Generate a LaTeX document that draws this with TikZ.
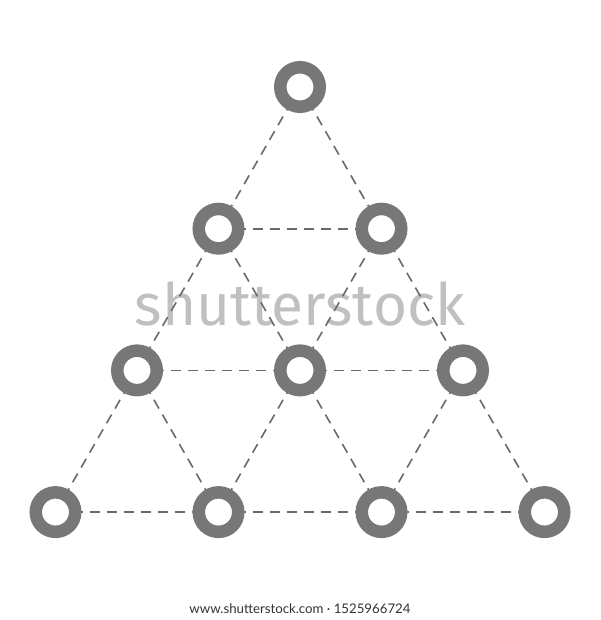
\documentclass[tikz,border=0pt]{standalone}
\usepackage{fontspec}
\newfontfamily\wmfont{Fira Sans}
\newfontfamily\capfont{Lato}
\definecolor{ringgray}{HTML}{777777}
\definecolor{dashgray}{HTML}{6A6A6A}
\definecolor{wmgray}{HTML}{C0C0C0}
\definecolor{captxt}{HTML}{333333}
\tikzset{
  ring/.style={circle, draw=ringgray, line width=12.5pt, fill=white, minimum size=39.5pt, inner sep=0pt},
  link/.style={draw=dashgray, line width=1.6pt, dash pattern=on 10pt off 7pt},
}
\begin{document}
\begin{tikzpicture}[x=1pt,y=-1pt]
\useasboundingbox[fill=white] (0,0) rectangle (600,620);
\node[text=wmgray, inner sep=0pt] (wm) at (300,304) {\resizebox{330pt}{!}{\wmfont shutterstock}};
% nodes
\foreach \r in {0,...,3}{
  \foreach \i in {0,...,\r}{
    \pgfmathsetmacro{\xx}{300 + 163*(\i - \r/2)}
    \pgfmathsetmacro{\yy}{87 + 141.7*\r}
    \coordinate (c\r\i) at (\xx,\yy);
  }
}
% links
\foreach \r in {0,...,3}{
  \foreach \i in {0,...,\r}{
    \pgfmathtruncatemacro{\nr}{\r+1}
    \pgfmathtruncatemacro{\ni}{\i+1}
    \ifnum\i<\r \draw[link] (c\r\i) -- (c\r\ni); \fi
    \ifnum\r<3
      \draw[link] (c\r\i) -- (c\nr\i);
      \draw[link] (c\r\i) -- (c\nr\ni);
    \fi
  }
}
\foreach \r in {0,...,3}{
  \foreach \i in {0,...,\r}{
    \node[ring] (n\r\i) at (c\r\i) {};
  }
}
\node[text=captxt, inner sep=0pt] (cap) at (300,609) {\resizebox{221pt}{!}{\capfont www.shutterstock.com · 1525966724}};
\end{tikzpicture}
\end{document}
